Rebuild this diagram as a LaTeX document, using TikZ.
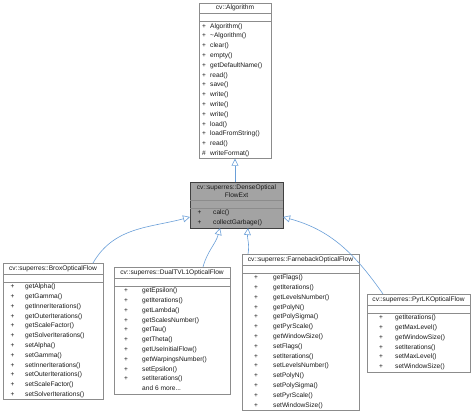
\documentclass[tikz,border=0pt]{standalone}
\usepackage{fontspec}
\setmainfont{Liberation Sans}
\usetikzlibrary{arrows.meta}
\definecolor{edgeblue}{HTML}{6A9FD8}
\definecolor{boxline}{HTML}{8C8C8C}
\definecolor{curfill}{HTML}{A3A3A3}
\tikzset{
  classbox/.style={draw=boxline, line width=0.6pt, fill=white, inner sep=0pt, outer sep=0pt, anchor=north west},
  curbox/.style={classbox, fill=curfill, draw=black!75},
  sepline/.style={draw=boxline, line width=0.6pt},
  txt/.style={font=\fontsize{6.6}{7.8}\selectfont, inner sep=0pt, text=black!90, text height=4.7pt, text depth=1.3pt},
  ttl/.style={font=\fontsize{6.6}{7.8}\selectfont, inner sep=0pt, text=black!90, align=center},
  inherit/.style={draw=edgeblue, line width=0.6pt, -{Triangle[open, length=7pt, width=7pt]}},
}
\def\rowh{9.8}
\def\visx{9.5}
\def\namex{22}
\newcommand\andsixmore{and 6 more...}
% #1 box style, #2 name, #3 left, #4 top, #5 width, #6 title height, #7 rows, #8 title, #9 methods
\newcommand\umlclass[9]{%
  \pgfmathsetmacro\hh{#6+8+#7*\rowh}%
  \node[#1, minimum width=#5pt, minimum height=\hh pt] (#2) at (#3,#4) {};
  \node[ttl] (#2-t) at ([yshift={-0.5*#6pt}]#2.north) {#8};
  \draw[sepline] ([yshift=-#6pt]#2.north west) -- ([yshift=-#6pt]#2.north east);
  \pgfmathsetmacro\hb{#6+8}%
  \draw[sepline] ([yshift=-\hb pt]#2.north west) -- ([yshift=-\hb pt]#2.north east);
  \foreach \v/\m [count=\i] in {#9} {
    \pgfmathsetmacro\yy{#6+8+\rowh*(\i-0.5)}
    \node[txt, anchor=center] (#2-v\i) at ([xshift=\visx pt, yshift=-\yy pt]#2.north west) {\v};
    \node[txt, anchor=west] (#2-m\i) at ([xshift=\namex pt, yshift=-\yy pt]#2.north west) {\m};
  }
}
\begin{document}
\begin{tikzpicture}[x=1pt, y=-1pt]
\useasboundingbox (0,0) rectangle (474,412);

\def\visx{5}\def\namex{11}
\umlclass{classbox}{alg}{199}{3}{72}{10.5}{14}{cv::Algorithm}{+/Algorithm(), +/\textasciitilde Algorithm(), +/clear(), +/empty(), +/getDefaultName(), +/read(), +/save(), +/write(), +/write(), +/write(), +/load(), +/loadFromString(), +/read(), \#/writeFormat()}

\def\rowh{10}\def\visx{9.5}\def\namex{23}
\umlclass{curbox}{dense}{190}{182}{93}{18}{2}{cv::superres::DenseOptical\\FlowExt}{+/calc(), +/collectGarbage()}

\def\rowh{9.8}\def\visx{9.5}\def\namex{22}
\umlclass{classbox}{brox}{3}{263}{100}{11}{12}{cv::superres::BroxOpticalFlow}{+/getAlpha(), +/getGamma(), +/getInnerIterations(), +/getOuterIterations(), +/getScaleFactor(), +/getSolverIterations(), +/setAlpha(), +/setGamma(), +/setInnerIterations(), +/setOuterIterations(), +/setScaleFactor(), +/setSolverIterations()}

\def\visx{12}\def\namex{28}
\umlclass{classbox}{dual}{114}{267}{116}{11}{11}{cv::superres::DualTVL1OpticalFlow}{+/getEpsilon(), +/getIterations(), +/getLambda(), +/getScalesNumber(), +/getTau(), +/getTheta(), +/getUseInitialFlow(), +/getWarpingsNumber(), +/setEpsilon(), +/setIterations(), {}/\andsixmore}

\def\visx{14}\def\namex{31}
\umlclass{classbox}{farn}{242}{254}{117}{11}{14}{cv::superres::FarnebackOpticalFlow}{+/getFlags(), +/getIterations(), +/getLevelsNumber(), +/getPolyN(), +/getPolySigma(), +/getPyrScale(), +/getWindowSize(), +/setFlags(), +/setIterations(), +/setLevelsNumber(), +/setPolyN(), +/setPolySigma(), +/setPyrScale(), +/setWindowSize()}

\def\visx{14}\def\namex{28}
\umlclass{classbox}{pyr}{367}{294}{103}{11}{6}{cv::superres::PyrLKOpticalFlow}{+/getIterations(), +/getMaxLevel(), +/getWindowSize(), +/setIterations(), +/setMaxLevel(), +/setWindowSize()}

% inheritance edges
\draw[inherit] (dense.north -| alg.south) -- (alg.south);
\draw[inherit] ([xshift=-10pt]brox.north east) to[out=60, in=195] ([yshift=-35pt]dense.north west);
\draw[inherit] ([xshift=89pt]dual.north west) to[out=75, in=-105] ([xshift=30pt]dense.south west);
\draw[inherit] ([xshift=6pt]farn.north west) to[out=80, in=-95] ([xshift=58pt]dense.south west);
\draw[inherit] ([xshift=16pt]pyr.north west) to[out=125, in=-15] ([yshift=-35pt]dense.north east);
\end{tikzpicture}
\end{document}
